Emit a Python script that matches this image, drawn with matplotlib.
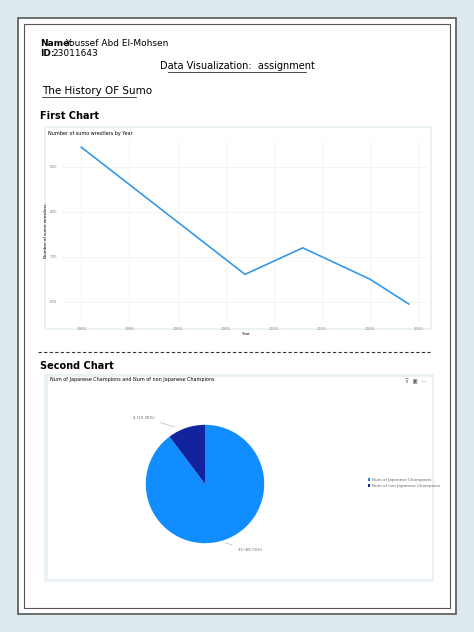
import matplotlib.pyplot as plt
from matplotlib.patches import Rectangle

years = [1990, 2007, 2013, 2020, 2024]
wrestlers = [944, 661, 720, 650, 595]
year_ticks = [1990, 1995, 2000, 2005, 2010, 2015, 2020, 2025]
wrestler_ticks = [600, 700, 800, 900]

champ_labels = ["Num of Japanese Champions", "Num of non Japanese Champions"]
champ_values = [35, 4]
champ_colors = ["#118dff", "#12239e"]

W, H = 474, 632
fig = plt.figure(figsize=(W / 100, H / 100), dpi=100)
fig.patch.set_facecolor("#dce9ef")

def box(x, y, w, h, **kw):
    # pixel coords from top-left
    fig.add_artist(Rectangle((x / W, 1 - (y + h) / H), w / W, h / H,
                             transform=fig.transFigure, zorder=-5, **kw))

box(18, 18, 438, 596, facecolor="white", edgecolor="#555555", lw=1.2)
box(24, 24, 426, 584, facecolor="none", edgecolor="#555555", lw=0.8)
fig.add_artist(plt.Line2D([38 / W, 432 / W], [1 - 352 / H] * 2, color="#333333",
                          lw=0.8, ls=(0, (3, 2)), transform=fig.transFigure))

def t(x, y, s, **kw):
    fig.text(x / W, 1 - y / H, s, va="center", **kw)

t(40, 43, "Name:", fontsize=6.5, fontweight="bold")
t(65, 43, "Youssef Abd El-Mohsen", fontsize=6.5)
t(40, 54, "ID:", fontsize=6.5, fontweight="bold")
t(52, 54, "23011643", fontsize=6.5)
t(237, 66, "Data Visualization:  assignment", fontsize=7, ha="center")
t(42, 91, "The History OF Sumo", fontsize=7.5)
t(40, 116, "First Chart", fontsize=7, fontweight="bold")
t(40, 366, "Second Chart", fontsize=7, fontweight="bold")
fig.add_artist(plt.Line2D([237 / W - 0.145, 237 / W + 0.145], [1 - 72 / H] * 2, color="k",
                          lw=0.5, transform=fig.transFigure))
fig.add_artist(plt.Line2D([42 / W, 136 / W], [1 - 97 / H] * 2, color="k",
                          lw=0.5, transform=fig.transFigure))

# line chart panel
box(44, 126, 388, 204, facecolor="#eaf2f5", edgecolor="none")
box(46, 128, 384, 200, facecolor="white", edgecolor="none")
t(48, 133, "Number of sumo wrestlers by Year", fontsize=3.5)
ax = fig.add_axes([62 / W, 1 - 322 / H, 366 / W, 182 / H])
ax.set_facecolor("none")
ax.plot(years, wrestlers, color="#3599e6", lw=1.2)
ax.set_xlim(1988, 2026)
ax.set_ylim(555, 960)
ax.set_xticks(year_ticks)
ax.set_yticks(wrestler_ticks)
ax.tick_params(labelsize=2.8, colors="#888888", length=0)
ax.grid(color="#f0f0f0", lw=0.5)
for s in ax.spines.values():
    s.set_visible(False)
ax.set_xlabel("Year", fontsize=3, labelpad=1)
ax.set_ylabel("Number of sumo wrestlers", fontsize=3, labelpad=1)

# pie chart panel
box(44, 374, 390, 208, facecolor="#eaf2f5", edgecolor="none")
box(48, 377, 384, 202, facecolor="white", edgecolor="none")
t(50, 380, "Num of Japanese Champions and Num of non Japanese Champions", fontsize=3.5)
t(405, 381, "\u22bd  \u25a3  \u22ef", fontsize=4, color="#666666")
ax2 = fig.add_axes([110 / W, 1 - 558 / H, 190 / W, 148 / H])
total = sum(champ_values)
wedges, _ = ax2.pie(champ_values, colors=champ_colors, startangle=90, counterclock=False)
ax2.annotate(f"{champ_values[1]} ({champ_values[1] / total * 100:.2f}%)", xy=(-0.47, 0.95),
             xytext=(-0.85, 1.12), fontsize=2.8, color="#666666", ha="right", va="center",
             arrowprops=dict(arrowstyle="-", color="#aaaaaa", lw=0.4))
ax2.annotate(f"{champ_values[0]} ({champ_values[0] / total * 100:.2f}%)", xy=(0.3, -0.98),
             xytext=(0.55, -1.12), fontsize=2.8, color="#666666", ha="left", va="center",
             arrowprops=dict(arrowstyle="-", color="#aaaaaa", lw=0.4))
ax2.set_aspect("equal")
fig.legend(wedges, champ_labels, loc="center left", bbox_to_anchor=(364 / W, 1 - 483 / H),
           fontsize=3, frameon=False, handlelength=0.6, handleheight=0.6,
           labelspacing=0.5, handletextpad=0.4, labelcolor="#666666")

fig.savefig("out.png", dpi=100, facecolor=fig.get_facecolor())
